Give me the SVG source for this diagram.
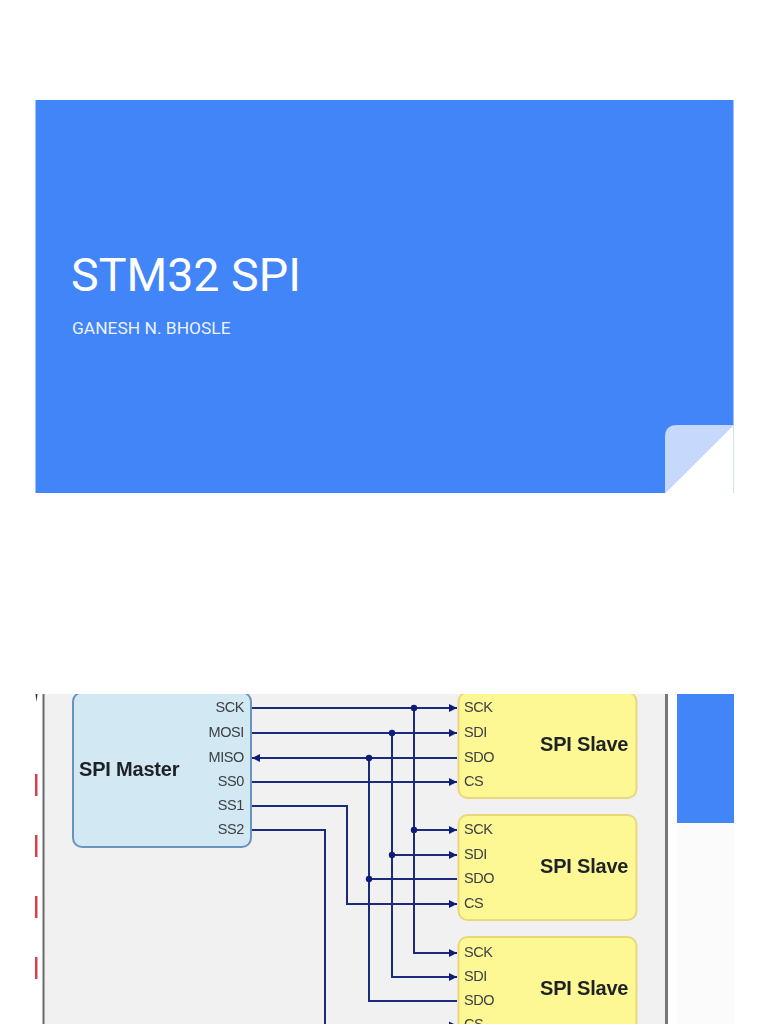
<svg xmlns="http://www.w3.org/2000/svg" width="768" height="1024" viewBox="0 0 768 1024">
<defs>
<marker id="a" markerUnits="userSpaceOnUse" markerWidth="9" markerHeight="10" refX="8" refY="5" orient="auto"><path d="M0 1L8 5L0 9z" fill="#101f7a"/></marker>
<clipPath id="c"><rect x="35" y="694" width="699" height="330"/></clipPath>
<filter id="soft" x="0" y="0" width="1" height="1"><feGaussianBlur stdDeviation=".45"/></filter>
</defs>
<style>
.w{fill:#fff;font-family:Roboto,"Liberation Sans",sans-serif}
.p{font-family:"Liberation Sans",Arial,sans-serif;font-size:14.500px;fill:#3c3f44;letter-spacing:-.4px}
.b{font-family:"Liberation Sans",Arial,sans-serif;font-size:20px;font-weight:700;fill:#1e2125;letter-spacing:-.2px}
.m{fill:#d2e8f2;stroke:#6a93bd;stroke-width:2}
.s{fill:#fdf794;stroke:#e9d77c;stroke-width:2}
.l{fill:none;stroke:#1c2a7c;stroke-width:2}
.ar{marker-end:url(#a)}
.d{fill:#101f7a}
</style>
<rect width="768" height="1024" fill="#fff"/>
<g id="title-slide">
<rect x="35.500" y="100" width="698" height="393" fill="#4285f9"/>
<path d="M665 493V437Q665 425 677 425H733.500Z" fill="#c6d9fd"/>
<path d="M665 493L733.500 425V493Z" fill="#fff"/>
<text class="w" x="71" y="291" font-size="46.600">STM32 SPI</text>
<text class="w" x="72" y="334" font-size="17.400" fill-opacity=".92">GANESH N. BHOSLE</text>
</g>
<g clip-path="url(#c)">
<g id="slide-image" filter="url(#soft)">
<rect x="44" y="694" width="623" height="330" fill="#f1f1f2"/>
<rect x="42.500" y="694" width="2" height="330" fill="#6b6b6e"/>
<rect x="665" y="694" width="3" height="330" fill="#77777a"/>
<rect x="677" y="694" width="57" height="129" fill="#4285f9"/>
<rect x="677" y="823" width="57" height="201" fill="#fbfbfb"/>
<path d="M35.500 694h2l-1 8z" fill="#333"/>
<g fill="#d8404c"><rect x="35" y="774" width="2.500" height="22"/><rect x="35" y="835" width="2.500" height="22"/><rect x="35" y="896" width="2.500" height="22"/><rect x="35" y="957" width="2.500" height="22"/></g>
<g id="connectors">
<path class="l ar" d="M252 708H457"/>
<path class="l ar" d="M252 733H457"/>
<path class="l ar" d="M457 758H252"/>
<path class="l ar" d="M252 782H457"/>
<path class="l ar" d="M252 806H347V904H457"/>
<path class="l" d="M252 830H325V1026"/>
<path class="l ar" d="M414 708V953H457"/>
<path class="l ar" d="M392 733V977H457"/>
<path class="l" d="M369 758V1001H457"/>
<path class="l ar" d="M414 830H457"/>
<path class="l ar" d="M392 855H457"/>
<path class="l" d="M369 879H457"/>
<path class="l ar" d="M330 1025.500H457"/>
<g class="d"><circle cx="414" cy="708" r="3.200"/><circle cx="392" cy="733" r="3.200"/><circle cx="369" cy="758" r="3.200"/><circle cx="414" cy="830" r="3.200"/><circle cx="392" cy="855" r="3.200"/><circle cx="369" cy="879" r="3.200"/></g>
</g>
<g id="spi-master">
<rect class="m" x="73" y="692.500" width="178" height="154.500" rx="9"/>
<text class="b" x="79" y="776">SPI Master</text>
<g text-anchor="end"><text class="p" x="244" y="712">SCK</text><text class="p" x="244" y="737">MOSI</text><text class="p" x="244" y="762">MISO</text><text class="p" x="244" y="786">SS0</text><text class="p" x="244" y="810">SS1</text><text class="p" x="244" y="834">SS2</text></g>
</g>
<g id="spi-slave-1">
<rect class="s" x="458.500" y="692.500" width="178" height="105.500" rx="9"/>
<text class="p" x="464" y="712">SCK</text><text class="p" x="464" y="737">SDI</text><text class="p" x="464" y="762">SDO</text><text class="p" x="464" y="786">CS</text>
<text class="b" x="540" y="751">SPI Slave</text>
</g>
<g id="spi-slave-2">
<rect class="s" x="458.500" y="815" width="178" height="105" rx="9"/>
<text class="p" x="464" y="834">SCK</text><text class="p" x="464" y="859">SDI</text><text class="p" x="464" y="883">SDO</text><text class="p" x="464" y="908">CS</text>
<text class="b" x="540" y="873">SPI Slave</text>
</g>
<g id="spi-slave-3">
<rect class="s" x="458.500" y="937" width="178" height="110" rx="9"/>
<text class="p" x="464" y="957">SCK</text><text class="p" x="464" y="981">SDI</text><text class="p" x="464" y="1005">SDO</text><text class="p" x="464" y="1029">CS</text>
<text class="b" x="540" y="995">SPI Slave</text>
</g>
</g>
</g>
</svg>
